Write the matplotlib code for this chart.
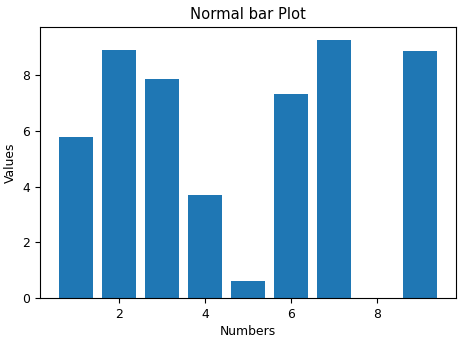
import matplotlib
matplotlib.use("Agg")
import matplotlib.pyplot as plt

numbers = [1, 2, 3, 4, 5, 6, 7, 8, 9]
values = [5.78, 8.90, 7.87, 3.71, 0.61, 7.33, 9.26, 0.0, 8.86]

fig = plt.figure(figsize=(4.74, 3.43), dpi=100)
ax = fig.add_axes([40/474, 1-298/343, (456-40)/474, (298-27)/343])
ax.bar(numbers, values, color="#1f77b4")
ax.set_title("Normal bar Plot", fontsize=10.6)
ax.set_xlabel("Numbers", fontsize=8.9, labelpad=3)
ax.set_ylabel("Values", fontsize=8.9)
ax.tick_params(labelsize=8.9)
fig.savefig("out.png", dpi=100)
